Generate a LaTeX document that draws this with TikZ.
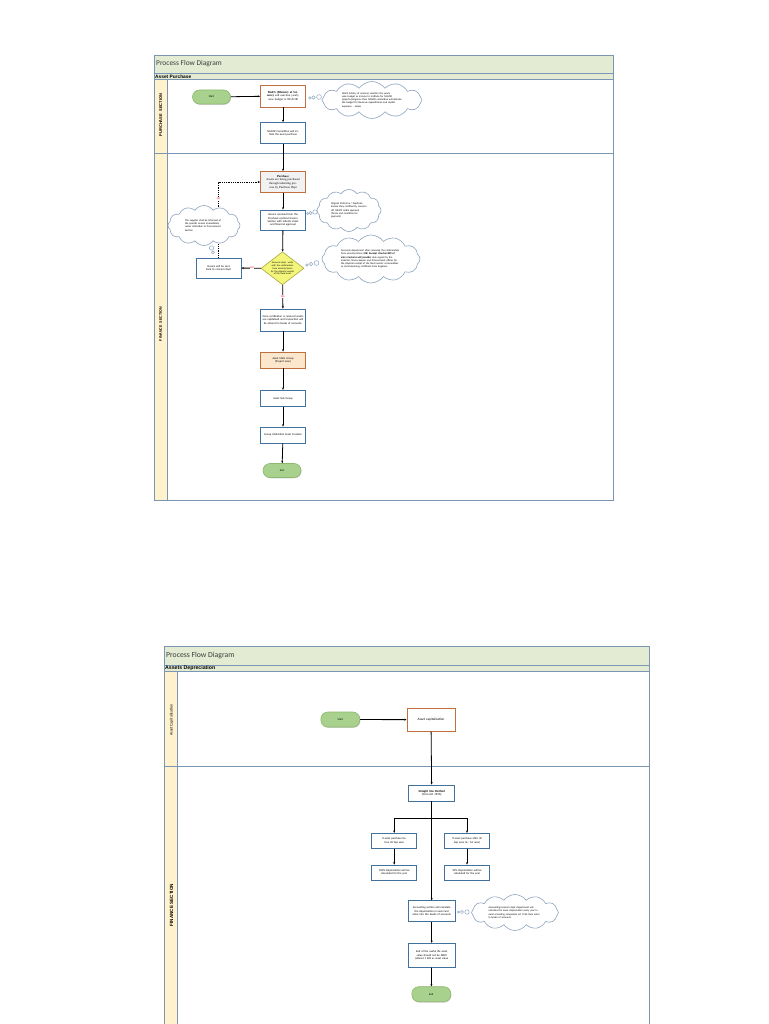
\documentclass[tikz,border=0pt]{standalone}
\usepackage{fontspec}
\setmainfont{Carlito}
\newfontfamily\serifx{Liberation Serif}
\newfontfamily\heavy{Liberation Sans}
\usetikzlibrary{shapes.geometric,shapes.symbols,arrows.meta,shadows}
\definecolor{framec}{HTML}{7B96B4}
\definecolor{titlefill}{HTML}{E4EBD3}
\definecolor{lanefill}{HTML}{FFF2CC}
\definecolor{boxblue}{HTML}{41719C}
\definecolor{boxorange}{HTML}{C0703F}
\definecolor{orfill}{HTML}{FCE6CC}
\definecolor{termfill}{HTML}{A9D18E}
\definecolor{termdraw}{HTML}{8DB870}
\definecolor{diafill}{HTML}{F4F67C}
\definecolor{diadraw}{HTML}{A9A83E}
\definecolor{cloudc}{HTML}{8EA4BF}
\definecolor{titletext}{HTML}{3B3B3B}
\begin{document}
\begin{tikzpicture}[x=1pt,y=-1pt,
  frameline/.style={draw=framec,line width=0.9pt},
  bx/.style={draw=boxblue,line width=0.8pt,fill=white,minimum width=45pt,minimum height=20pt,text width=41pt,align=center,inner sep=1pt,font=\fontsize{2.8}{3.4}\selectfont},
  obx/.style={bx,draw=boxorange},
  term/.style={rectangle,rounded corners=7pt,draw=termdraw,line width=0.6pt,fill=termfill,minimum width=38pt,minimum height=14pt,font=\fontsize{2.8}{3.4}\selectfont,drop shadow={shadow xshift=0.6pt,shadow yshift=-0.9pt,opacity=0.35}},
  cld/.style={cloud,cloud puffs=12,cloud puff arc=110,cloud ignores aspect,draw=cloudc,line width=0.6pt,fill=white,inner sep=0pt,align=left,font=\fontsize{2.6}{3.2}\selectfont,execute at begin node={\hyphenpenalty=10000}},
  arr/.style={-{Stealth[length=2.4pt,width=2pt]},line width=0.8pt,black},
  lbl/.style={text=red,font=\fontsize{2.6}{3}\selectfont,inner sep=0.5pt},
  lanetext/.style={rotate=90,font=\heavy\bfseries\fontsize{4}{4}\selectfont},
  tail/.style={draw=cloudc,line width=0.5pt,fill=white}
]
\useasboundingbox (0,0) rectangle (768,1024);
\fill[white] (0,0) rectangle (768,1024);

%================ TOP DIAGRAM =================
\fill[titlefill] (154,55) rectangle (613.3,79.3);
\fill[lanefill] (154,79.3) rectangle (167.3,500);
\draw[frameline] (154,55) rectangle (613.3,500);
\draw[frameline] (154,73.3) -- (613.3,73.3);
\draw[frameline] (154,79.3) -- (613.3,79.3);
\draw[frameline] (154,153.3) -- (613.3,153.3);
\draw[frameline] (167.3,79.3) -- (167.3,500);
\node[anchor=west,inner sep=0,text=titletext,font=\fontsize{7.4}{8}\selectfont] (t1) at (156,64) {Process Flow Diagram};
\node[anchor=west,inner sep=0,font=\heavy\bfseries\fontsize{4.8}{5}\selectfont] (s1) at (155,76.3) {Asset Purchase};
\node[lanetext] (lane1) at (160.7,115) {PURCHASE\ \ SECTION};
\node[lanetext,font=\heavy\bfseries\fontsize{3.6}{4}\selectfont] (lane2) at (160.7,324) {FINANCE\ \ SECTION};

% nodes
\node[term] (start) at (211.5,97) {Start};
\node[obx,minimum height=22pt,font=\serifx\fontsize{3}{3.6}\selectfont] (moes) at (283,96) {\textbf{MoES (Ministry of Science)} will sanction yearly wise budget to NCAOR};
\node[bx,minimum height=21pt] (b2) at (283,133) {NCAOR Committee will initiate the asset purchase};
\node[obx,fill=black!5,minimum height=21pt,font=\serifx\fontsize{3}{3.6}\selectfont] (purch) at (283,182) {\textbf{Purchase}\\Assets are being purchased through indenting process by Purchase Dept};
\node[bx] (b3) at (283,220) {Invoice received from the Purchase section/concern Section with indents sheet and financial approval};
\node[diamond,aspect=1.3,draw=diadraw,line width=0.6pt,fill=diafill,inner sep=0pt,minimum width=43pt,minimum height=33pt,text width=23pt,align=center,font=\fontsize{2.4}{2.9}\selectfont] (dia) at (282.5,268.3) {Accounts dept. verify with the confirmation from security/stores for the physical receipt of the fixed asset};
\node[bx] (back) at (218.5,268) {Invoice will be sent back to concern dept};
\node[bx,minimum height=22pt] (b4) at (283,320) {Once verification is received assets are capitalised and transaction will be entered in books of accounts.};
\node[obx,fill=orfill,minimum height=16pt] (b5) at (283,360) {Asset Main Group\\(Project wise)};
\node[bx,minimum height=16pt] (b6) at (283,398.3) {Asset Sub Group};
\node[bx,minimum height=16pt] (b7) at (283,435) {Group (Individual Asset Creation};
\node[term] (end) at (282,470.5) {End};

% connectors
\draw[arr] (start) -- (moes);
\draw[arr] (moes) -- (b2);
\draw[arr] (b2) -- (purch);
\draw[arr] (purch) -- (b3);
\draw[arr] (b3) -- (dia);
\draw[arr] (dia) -- node[lbl,fill=white,pos=0.45] {NO} (back);
\draw[arr,densely dotted] (back.north) |- node[lbl,fill=white,pos=0.39] {NO} (purch.west);
\draw[arr] (dia) -- node[lbl,fill=white,pos=0.5] {YES} (b4);
\draw[arr] (b4) -- (b5);
\draw[arr] (b5) -- (b6);
\draw[arr] (b6) -- (b7);
\draw[arr] (b7) -- (end);

% clouds
\node[cld,minimum width=100pt,minimum height=37pt,text width=60pt] (c1) at (372,100) {MoES (Mistry of science) sanction the yearly wise budget as income to institute for NCAOR projects/programs then NCAOR committee will allocate the budget for Revenue expenditures and capital expenses -- assets};
\draw[tail] (319,97) circle (2.4pt);
\draw[tail] (313.5,97.5) circle (1.8pt);
\draw[tail] (309.8,98) circle (1.2pt);

\node[cld,minimum width=64pt,minimum height=42pt,text width=36pt] (c2) at (349,210.5) {Original Proforma / Duplicate Invoice Duly certified by concern off. RE/PO initial approval (Terms and condition for payment)};
\draw[tail] (315,212) circle (2.2pt);
\draw[tail] (310.6,213) circle (1.6pt);
\draw[tail] (307.5,213.6) circle (1pt);

\node[cld,minimum width=72pt,minimum height=40pt,text width=38pt] (c3) at (204,225.5) {The supplier shall be informed of the specific reason immediately under intimation to Procurement Section};
\draw[tail] (211.5,248) circle (2.2pt);
\draw[tail] (213,252.3) circle (1.5pt);

\node[cld,minimum width=98pt,minimum height=48pt,text width=60pt] (c4) at (371,259) {Accounts department after receiving the confirmation from security/stores (\textbf{RR/ Receipt Voucher/Bill of entry Customs will provide}) duly signed by the Indenter, Stores keeper and Procurement officer for the physical receipt of the fixed assets/ consumables or commissioning certificate from Engineer.};
\draw[tail] (316.5,263) circle (2.4pt);
\draw[tail] (311,264) circle (1.8pt);
\draw[tail] (307,265) circle (1.2pt);

%================ BOTTOM DIAGRAM =================
\fill[titlefill] (164,646) rectangle (649.3,671.7);
\fill[lanefill] (164,671.7) rectangle (177.3,1024);
\draw[frameline] (164,1024) -- (164,646) -- (649.3,646) -- (649.3,1024);
\draw[frameline] (164,665) -- (649.3,665);
\draw[frameline] (164,671.7) -- (649.3,671.7);
\draw[frameline] (164,766) -- (649.3,766);
\draw[frameline] (177.3,671.7) -- (177.3,1024);
\node[anchor=west,inner sep=0,text=titletext,font=\fontsize{7.7}{8}\selectfont] (t2) at (166,655.5) {Process Flow Diagram};
\node[anchor=west,inner sep=0,font=\heavy\bfseries\fontsize{5.2}{5.5}\selectfont] (s2) at (165,668.3) {Assets Depreciation};
\node[rotate=90,font=\fontsize{4}{4.5}\selectfont] (lane3) at (171.5,720) {Asset Capitalisation};
\node[rotate=90,font=\heavy\bfseries\fontsize{4.6}{5}\selectfont] (lane4) at (171.5,905) {FINANCE SECTION};

\node[term,minimum width=39pt,minimum height=15pt] (start2) at (340.3,719.5) {Start};
\node[obx,minimum width=48pt,minimum height=23pt,font=\fontsize{3.4}{4}\selectfont] (cap) at (431,719.7) {Asset capitalisation};
\node[bx,minimum width=46pt,minimum height=16pt,font=\fontsize{3}{3.6}\selectfont] (slm) at (431.7,793) {\textbf{Straight line Method}\\(Com Act 1956)};
\coordinate (br) at (431.7,818.3);
\node[bx,minimum height=15pt] (lb1) at (394.2,840.8) {If asset purchase before 30 Sep xxxx};
\node[bx,minimum height=15pt] (rb1) at (467,840.8) {If asset purchase after 30 Sep xxxx (ie. 1st xxxx)};
\node[bx,minimum height=15pt] (lb2) at (394.2,872.5) {100\% Depreciation will be calculated for the year};
\node[bx,minimum height=15pt] (rb2) at (467,872.5) {50\% Depreciation will be calculated for the year};
\node[bx,minimum width=47pt,minimum height=21pt] (acc) at (431.7,911.3) {Accounting section will calculate the depreciation in excel and enter into the books of accounts};
\node[bx,minimum width=47pt,minimum height=24pt] (eol) at (431.7,955.3) {End of the useful life asset value should not be ZERO (atleast 1 INR as asset value};
\node[term,minimum width=39pt,minimum height=15pt] (end2) at (431.3,994.2) {End};

\draw[arr] (start2) -- (cap);
\draw[arr] (cap) -- (slm);
\draw[arr] (slm) -- (acc);
\draw[arr] (br) -| (lb1);
\draw[arr] (br) -| (rb1);
\draw[arr] (lb1) -- (lb2);
\draw[arr] (rb1) -- (rb2);
\draw[arr] (acc) -- (eol);
\draw[arr] (eol) -- (end2);

\node[cld,minimum width=87pt,minimum height=36pt,text width=53pt] (c5) at (515,912.5) {Accounting/concern dept department will calculate the asset depreciation every year in excel according companies act 1956 then enter in books of accounts.};
\draw[tail] (467,912) circle (2.2pt);
\draw[tail] (462,912) circle (1.6pt);
\draw[tail] (458.5,912) circle (1pt);
\end{tikzpicture}
\end{document}
